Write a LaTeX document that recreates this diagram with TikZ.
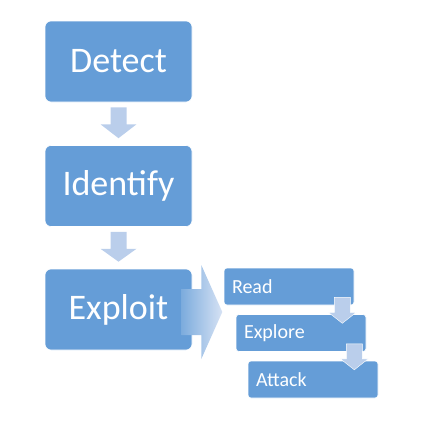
\documentclass[tikz,border=0pt]{standalone}
\usepackage{fontspec}
\setmainfont{Carlito}
\usetikzlibrary{calc,positioning}
\definecolor{boxblue}{RGB}{101,157,215}
\definecolor{arrowblue}{RGB}{186,206,235}
\definecolor{fadeblue}{RGB}{214,226,244}

\begin{document}
\begin{tikzpicture}[x=1pt,y=-1pt]
	\tikzset{
		bigbox/.style={draw=white, line width=0.6pt, fill=boxblue, rounded corners=6pt, text=white,
			minimum width=147pt, minimum height=81pt, font=\fontsize{36}{42}\selectfont},
		smallbox/.style={draw=white, line width=0.6pt, fill=boxblue, rounded corners=3pt, text=white,
			text width=114pt, inner xsep=8pt, align=left, minimum height=37pt, font=\fontsize{20}{24}\selectfont},
		blockarrow/.style={fill=arrowblue, draw=white, line width=0.4pt}
	}
	\useasboundingbox (0,0) rectangle (422,423);
	% main steps
	\node [bigbox] (detect) at (118.5,61.5) {Detect};
	\node [bigbox] (identify) at (118.5,186) {Identify};
	\node [bigbox] (exploit) at (118.5,309.5) {Exploit};
	% arrows between the main steps
	\foreach \a/\b in {detect/identify, identify/exploit}
		\fill [arrowblue] ($(\a.south)+(-8,5)$) -- ($(\a.south)+(8,5)$) -- ($(\a.south)+(8,22)$)
			-- ($(\a.south)+(18,22)$) -- ($(\b.north)+(0,-7)$) -- ($(\a.south)+(-18,22)$)
			-- ($(\a.south)+(-8,22)$) -- cycle;
	% chevron out of Exploit
	\shade [left color=boxblue!85!white, right color=fadeblue]
		($(exploit.east)+(-11,-20.5)$) -- ($(exploit.east)+(9,-20.5)$) -- ($(exploit.east)+(9,-44.5)$)
		-- ($(exploit.east)+(30,2.5)$) -- ($(exploit.east)+(9,49.5)$) -- ($(exploit.east)+(9,25.5)$)
		-- ($(exploit.east)+(-11,25.5)$) -- cycle;
	% sub steps
	\node [smallbox] (read) at (289,286.5) {Read};
	\node [smallbox] (explore) at (301,333) {Explore};
	\node [smallbox] (attack) at (313,379.5) {Attack};
	\foreach \a in {read, explore}
		\draw [blockarrow] ($(\a.south east)+(-20,-8)$) -- ($(\a.south east)+(-4,-8)$) -- ($(\a.south east)+(-4,7)$)
			-- ($(\a.south east)+(2,7)$) -- ($(\a.south east)+(-12,18)$) -- ($(\a.south east)+(-26,7)$)
			-- ($(\a.south east)+(-20,7)$) -- cycle;
\end{tikzpicture}
\end{document}
